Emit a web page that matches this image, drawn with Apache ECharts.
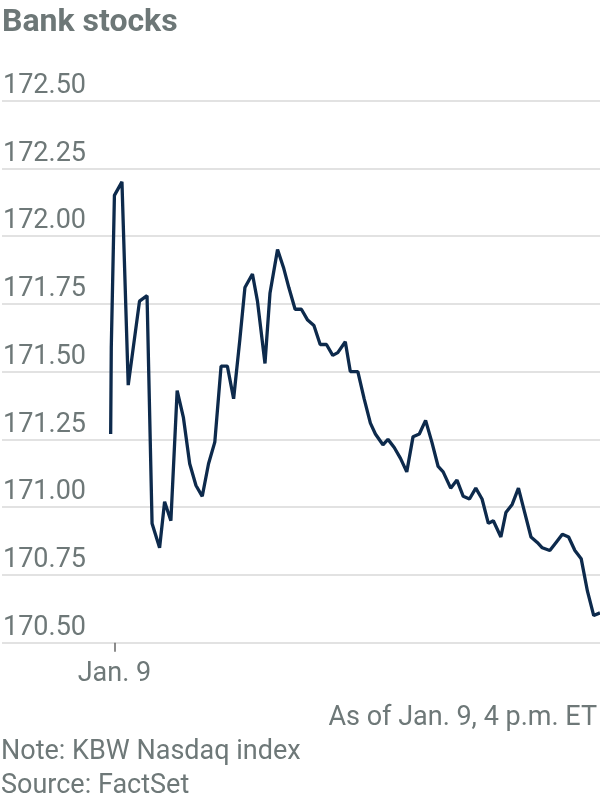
<!DOCTYPE html>
<html>
<head>
<meta charset="utf-8">
<script src="https://cdn.jsdelivr.net/npm/echarts@6/dist/echarts.min.js"></script>
<style>html,body{margin:0;padding:0;background:#fff}#c{width:600px;height:800px}</style>
</head>
<body>
<div id="c"></div>
<script>
// minutes after 9:30 a.m. ET
const minutes = [0,0.5,3,9,14,23,29,33,39,43,48,53,58,63,68,73,78,83,88,93,98,103,107,113,117,123,127,133,138,142,147,152,157,162,167,172,177,181,187,191,197,202,207,211,217,221,226,231,236,241,246,251,256,261,265,271,276,281,286,291,296,301,305,311,315,320,325,330,335,340,344,350,355,360,365,370,375,380,385,390];
const values = [171.27,171.59,172.15,172.20,171.45,171.76,171.78,170.94,170.85,171.02,170.95,171.43,171.33,171.16,171.08,171.04,171.16,171.24,171.52,171.52,171.40,171.62,171.81,171.86,171.76,171.53,171.79,171.95,171.88,171.81,171.73,171.73,171.69,171.67,171.60,171.60,171.56,171.57,171.61,171.50,171.50,171.40,171.31,171.27,171.23,171.25,171.22,171.18,171.13,171.26,171.27,171.32,171.24,171.15,171.13,171.07,171.10,171.04,171.03,171.07,171.03,170.94,170.95,170.89,170.98,171.01,171.07,170.98,170.89,170.87,170.85,170.84,170.87,170.90,170.89,170.84,170.81,170.69,170.60,170.61];
const xTickValues = [3];
const xTickLabels = ['Jan. 9'];
const yMin = 170.5, yMax = 172.5, yStep = 0.25;
const titleText = 'Bank stocks';
const asOfText = 'As of Jan. 9, 4 p.m. ET';
const noteText = 'Note: KBW Nasdaq index';
const sourceText = 'Source: FactSet';

const FONT = 'Roboto, "Noto Sans", sans-serif';
const GRAY = '#6e7878';
const chart = echarts.init(document.getElementById('c'));
chart.setOption({
  animation: false,
  title: {
    text: titleText, left: 2, top: 7, padding: 0,
    textStyle: {fontFamily: FONT, fontSize: 32, fontWeight: 'bold', color: '#6d7777'}
  },
  grid: {left: 0, right: 0, top: 100.5, bottom: 157.3, containLabel: false},
  xAxis: {
    type: 'value', min: -86.6, max: 390,
    axisLine: {show: false},
    splitLine: {show: false},
    axisTick: {show: true, customValues: xTickValues, length: 9, lineStyle: {color: '#666', width: 1.5}},
    axisLabel: {
      show: true, customValues: xTickValues, margin: 18,
      formatter: v => xTickLabels[xTickValues.indexOf(v)] || '',
      fontFamily: FONT, fontSize: 27, color: GRAY
    }
  },
  yAxis: {
    type: 'value', min: yMin, max: yMax, interval: yStep,
    axisLine: {show: false}, axisTick: {show: false},
    splitLine: {show: true, lineStyle: {color: '#e2e2e2', width: 2}},
    axisLabel: {
      inside: true, margin: 1, verticalAlign: 'bottom', align: 'left',
      padding: [0, 0, 1, 0],
      formatter: v => v.toFixed(2),
      fontFamily: FONT, fontSize: 27, color: GRAY
    }
  },
  series: [{
    type: 'line', data: minutes.map((m, i) => [m, values[i]]),
    showSymbol: false, lineStyle: {color: '#0d2a4c', width: 3.3}, z: 5
  }],
  graphic: [
    {type: 'text', right: 3, top: 705, style: {text: asOfText, font: '27px ' + FONT, fill: GRAY}},
    {type: 'text', left: 1, top: 739, style: {text: noteText, font: '27px ' + FONT, fill: GRAY}},
    {type: 'text', left: 1, top: 773, style: {text: sourceText, font: '27px ' + FONT, fill: GRAY}}
  ]
});
</script>
</body>
</html>
